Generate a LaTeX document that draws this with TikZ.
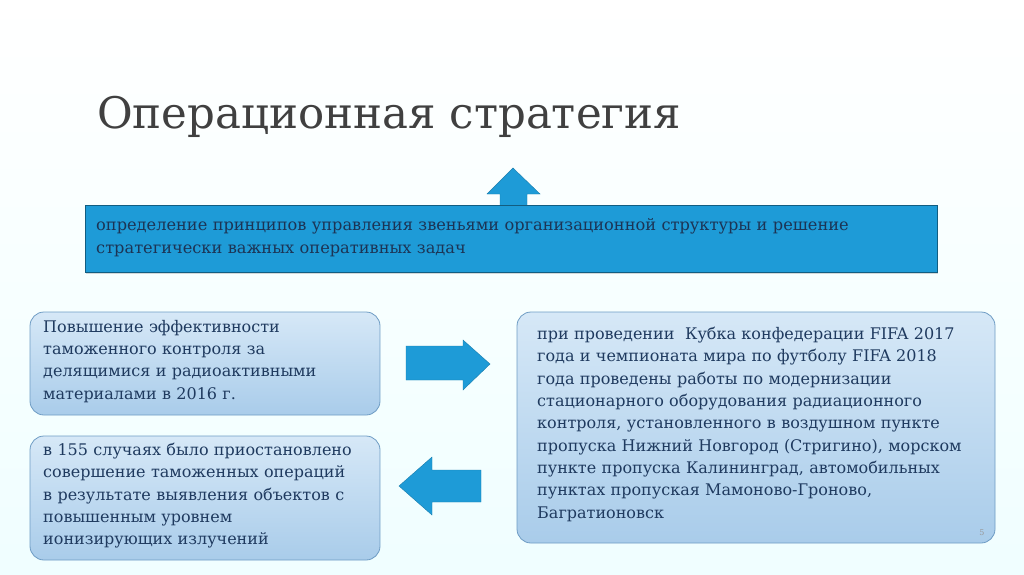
\documentclass[tikz,border=0pt]{standalone}
\usepackage{fontspec}
\setmainfont{DejaVu Serif}
\usetikzlibrary{shadows}
\definecolor{bluearr}{HTML}{1E9BD7}
\definecolor{navy}{HTML}{1F3A5F}
\definecolor{boxtop}{HTML}{D6E8F7}
\definecolor{boxbot}{HTML}{A9CCEA}
\definecolor{boxedge}{HTML}{6E9CC4}
\tikzset{
 arrowshape/.style={fill=bluearr, draw=bluearr!80!black, line width=0.4pt},
 infobox/.style={rounded corners=14pt, top color=boxtop, bottom color=boxbot, draw=boxedge, line width=0.8pt},
 boxtext/.style={text=navy, font=\fontsize{16}{22.3}\selectfont, align=left, anchor=north west, inner sep=0pt},
}
\begin{document}
\begin{tikzpicture}[x=1pt,y=-1pt]
\fill[top color=white, bottom color=blue!4!cyan!6] (0,0) rectangle (1024,574);
\useasboundingbox (0,0) rectangle (1024,574);
\node[anchor=base west, text=black!75, font=\fontsize{43.5}{48}\selectfont, inner sep=0pt] (title) at (97,128) {Операционная стратегия};
% up arrow
\path[arrowshape] (500,206) -- (500,194) -- (487,194) -- (513,168) -- (540,194) -- (527,194) -- (527,206) -- cycle;
\node[fill=bluearr, draw=bluearr!60!black, line width=0.6pt, minimum width=852pt, minimum height=67pt, anchor=north west, inner sep=0pt, drop shadow={opacity=0.3,shadow xshift=1pt,shadow yshift=-2pt}] (banner) at (85,205) {};
\node[boxtext, text=navy!90!black, font=\fontsize{16.2}{23}\selectfont, text width=840pt] (bt) at (96,218) {определение принципов управления звеньями организационной структуры и решение\\стратегически важных оперативных задач};
% boxes
\draw[infobox] (30,312) rectangle (380,415);
\node[boxtext, text width=340pt] (t1) at (43,320) {Повышение эффективности\\таможенного контроля за\\делящимися и радиоактивными\\материалами в 2016 г.};
\draw[infobox] (30,436) rectangle (380,560);
\node[boxtext, text width=340pt] (t2) at (43,443) {в 155 случаях было приостановлено\\совершение таможенных операций\\в результате выявления объектов с\\повышенным уровнем\\ионизирующих излучений};
\draw[infobox] (517,312) rectangle (995,543);
\node[boxtext, text width=460pt] (t3) at (537,327) {при проведении~ Кубка конфедерации FIFA 2017\\года и чемпионата мира по футболу FIFA 2018\\года проведены работы по модернизации\\стационарного оборудования радиационного\\контроля, установленного в воздушном пункте\\пропуска Нижний Новгород (Стригино), морском\\пункте пропуска Калининград, автомобильных\\пунктах пропуская Мамоново-Гроново,\\Багратионовск};
% side arrows
\path[arrowshape] (406,346) -- (463,346) -- (463,340) -- (490,364) -- (463,390) -- (463,380) -- (406,380) -- cycle;
\path[arrowshape] (481,470) -- (432,470) -- (432,457) -- (399,486) -- (432,515) -- (432,502) -- (481,502) -- cycle;
\node[text=black!40, font=\fontsize{8}{8}\selectfont] (pg) at (982,533) {5};
\end{tikzpicture}
\end{document}
